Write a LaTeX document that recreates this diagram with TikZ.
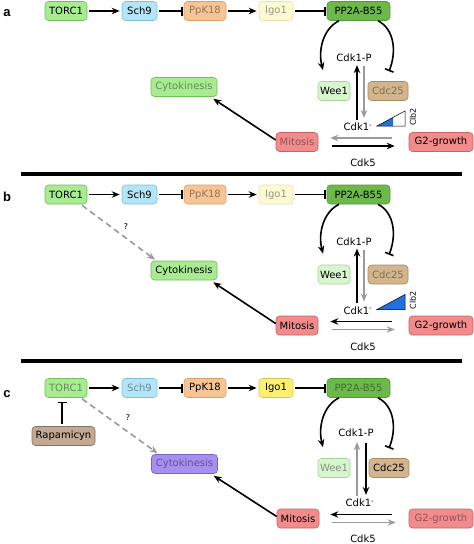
\documentclass[tikz,border=0pt]{standalone}
\usepackage{fontspec}
\setmainfont{DejaVu Sans}
\newfontfamily\lblfont{Liberation Sans}
\usetikzlibrary{arrows.meta}
\definecolor{torcF}{HTML}{A8EB91}\definecolor{torcD}{HTML}{6FBF5A}
\definecolor{schF}{HTML}{B3E5F6}\definecolor{schD}{HTML}{7FC0D8}
\definecolor{ppkF}{HTML}{F7C595}\definecolor{ppkD}{HTML}{D4A06C}
\definecolor{igoPF}{HTML}{FDF9D3}\definecolor{igoPD}{HTML}{E6DFAE}
\definecolor{igoF}{HTML}{FCF073}\definecolor{igoD}{HTML}{D6C64A}
\definecolor{ppF}{HTML}{6CB84A}\definecolor{ppD}{HTML}{4F9A35}
\definecolor{weeF}{HTML}{D8F5D0}\definecolor{weeD}{HTML}{A3D396}
\definecolor{cdcF}{HTML}{D3B58D}\definecolor{cdcD}{HTML}{A88A63}
\definecolor{mitF}{HTML}{F28B8B}\definecolor{mitD}{HTML}{C96262}
\definecolor{cytF}{HTML}{A58FF0}\definecolor{cytD}{HTML}{7A62C4}
\definecolor{rapF}{HTML}{C3A893}\definecolor{rapD}{HTML}{87705D}
\definecolor{arrgray}{HTML}{9A9A9A}
\definecolor{clbblue}{HTML}{2370DC}
\begin{document}
\begin{tikzpicture}[x=1pt,y=-1pt,
 box/.style={draw, rounded corners=3.5pt, line width=0.6pt, minimum height=19pt, inner sep=1pt, font=\fontsize{10}{12}\selectfont, text=black},
 fade/.style={text opacity=0.4},
 torc/.style={box, fill=torcF, draw=torcD, minimum width=42pt},
 sch/.style={box, fill=schF, draw=schD, minimum width=35pt},
 ppk/.style={box, fill=ppkF, draw=ppkD, minimum width=42pt},
 igop/.style={box, fill=igoPF, draw=igoPD, minimum width=34pt},
 igo/.style={box, fill=igoF, draw=igoD, minimum width=34pt},
 pp/.style={box, fill=ppF, draw=ppD, minimum width=63pt},
 wee/.style={box, fill=weeF, draw=weeD, minimum width=32pt},
 cdc/.style={box, fill=cdcF, draw=cdcD, minimum width=40pt},
 cytg/.style={box, fill=torcF, draw=torcD, minimum width=66pt},
 cytp/.style={box, fill=cytF, draw=cytD, minimum width=66pt},
 mit/.style={box, fill=mitF, draw=mitD, minimum width=42pt},
 gtwo/.style={box, fill=mitF, draw=mitD, minimum width=64pt},
 rap/.style={box, fill=rapF, draw=rapD, minimum width=63pt},
 act/.style={line width=1.6pt, -{Stealth[length=8pt,width=6.5pt]}, shorten <=2pt, shorten >=2pt},
 plain/.style={line width=1.6pt, -{Stealth[length=8pt,width=6.5pt]}},
 gplain/.style={plain, draw=arrgray},
 inh/.style={line width=1.6pt, -{Bar[width=9pt,line width=1.6pt]}, shorten <=2pt, shorten >=1pt},
 inhc/.style={line width=1.6pt, -{Bar[width=9pt,line width=1.6pt]}},
 dashact/.style={line width=1.6pt, draw=arrgray, dash pattern=on 6pt off 4pt, -{Stealth[length=8pt,width=6.5pt]}},
 lbl/.style={font=\fontsize{10}{12}\selectfont, inner sep=1pt},
 qlbl/.style={font=\fontsize{8}{9}\selectfont, inner sep=1pt},
 plbl/.style={font=\lblfont\bfseries\fontsize{13}{14}\selectfont, inner sep=0pt},
 rule/.style={line width=4pt},
]
\useasboundingbox (0,0) rectangle (474,544);

% ---------------- panel a ----------------
\node[plbl] (a-lab) at (7,13) {a};
\node[torc] (a-torc) at (66,11) {TORC1};
\node[sch] (a-sch) at (139.5,11) {Sch9};
\node[ppk, fade] (a-ppk) at (205,11) {PpK18};
\node[igop, fade] (a-igo) at (276,11) {Igo1};
\node[pp] (a-pp) at (358.5,11) {PP2A-B55};
\node[lbl] (a-cp) at (354,58) {Cdk1-P};
\node[wee] (a-wee) at (334,91) {Wee1};
\node[cdc, fade] (a-cdc) at (388,91) {Cdc25};
\node[lbl] (a-c) at (358,127) {Cdk1\textsuperscript{-}};
\node[cytg, fade] (a-cyto) at (184,87) {Cytokinesis};
\node[mit, fade] (a-mit) at (297,142) {Mitosis};
\node[gtwo] (a-g2) at (441,142) {G2-growth};
\node[lbl] (a-c5) at (363,163) {Cdk5};
\draw[act] (a-torc) -- (a-sch);
\draw[inh] (a-sch) -- (a-ppk);
\draw[act] (a-ppk) -- (a-igo);
\draw[inh] (a-igo) -- (a-pp);
\draw[plain] ([xshift=-19.5pt]a-pp.south) .. controls +(-16,8) and +(-5,-20) .. ([xshift=-11pt,yshift=11pt]a-wee.north);
\draw[inhc] ([xshift=19.5pt]a-pp.south) .. controls +(16,8) and +(8,-20) .. ([xshift=1pt,yshift=10pt]a-cdc.north);
\draw[plain] ([xshift=-1pt,yshift=2pt]a-c.north) -- ([xshift=3pt,yshift=-2pt]a-cp.south);
\draw[gplain] ([xshift=10pt,yshift=-3pt]a-cp.south) -- ([xshift=6pt,yshift=4pt]a-c.north);
\draw[gplain] ([xshift=-17pt,yshift=4pt]a-g2.west) -- ([xshift=12pt,yshift=4pt]a-mit.east);
\draw[plain] ([xshift=14pt,yshift=-4pt]a-mit.east) -- ([xshift=-14pt,yshift=-4pt]a-g2.west);
\draw[plain] ([yshift=2pt]a-mit.west) -- ([xshift=-4pt,yshift=-2pt]a-cyto.south east);
\fill[clbblue] (377,126) -- (393,126) -- (393,117.4) -- cycle;
\draw[line width=0.5pt] (377,126) -- (405,126) -- (405,111) -- cycle;
\node[qlbl, rotate=90] (a-clb) at (413,117) {Clb2};
\draw[rule] (21,174) -- (462,174);

% ---------------- panel b ----------------
\begin{scope}[shift={(0,183.5)}]
\node[plbl] (b-lab) at (7,13) {b};
\node[torc] (b-torc) at (66,11) {TORC1};
\node[sch] (b-sch) at (139.5,11) {Sch9};
\node[ppk, fade] (b-ppk) at (205,11) {PpK18};
\node[igop, fade] (b-igo) at (276,11) {Igo1};
\node[pp] (b-pp) at (358.5,11) {PP2A-B55};
\node[lbl] (b-cp) at (354,58) {Cdk1-P};
\node[wee] (b-wee) at (334,91) {Wee1};
\node[cdc, fade] (b-cdc) at (388,91) {Cdc25};
\node[lbl] (b-c) at (358,127) {Cdk1\textsuperscript{-}};
\node[cytg] (b-cyto) at (184,87) {Cytokinesis};
\node[mit] (b-mit) at (297,142) {Mitosis};
\node[gtwo] (b-g2) at (441,142) {G2-growth};
\node[lbl] (b-c5) at (363,163) {Cdk5};
\node[qlbl] (b-q) at (126,43) {?};
\draw[act] (b-torc) -- (b-sch);
\draw[inh] (b-sch) -- (b-ppk);
\draw[act] (b-ppk) -- (b-igo);
\draw[inh] (b-igo) -- (b-pp);
\draw[dashact] ([xshift=16pt,yshift=-1pt]b-torc.south) -- ([xshift=-29pt,yshift=1pt]b-cyto.north);
\draw[plain] ([xshift=-19.5pt]b-pp.south) .. controls +(-16,8) and +(-5,-20) .. ([xshift=-11pt,yshift=11pt]b-wee.north);
\draw[inhc] ([xshift=19.5pt]b-pp.south) .. controls +(16,8) and +(8,-20) .. ([xshift=1pt,yshift=10pt]b-cdc.north);
\draw[plain] ([xshift=-1pt,yshift=2pt]b-c.north) -- ([xshift=3pt,yshift=-2pt]b-cp.south);
\draw[gplain] ([xshift=10pt,yshift=-3pt]b-cp.south) -- ([xshift=6pt,yshift=4pt]b-c.north);
\draw[plain] ([xshift=-17pt,yshift=4pt]b-g2.west) -- ([xshift=12pt,yshift=4pt]b-mit.east);
\draw[gplain] ([xshift=14pt,yshift=-4pt]b-mit.east) -- ([xshift=-14pt,yshift=-4pt]b-g2.west);
\draw[plain] ([yshift=2pt]b-mit.west) -- ([xshift=-4pt,yshift=-2pt]b-cyto.south east);
\fill[clbblue] (377,126) -- (405,126) -- (405,111) -- cycle;
\draw[line width=0.5pt] (377,126) -- (405,126) -- (405,111) -- cycle;
\node[qlbl, rotate=90] (b-clb) at (413,117) {Clb2};
\draw[rule] (21,177.5) -- (462,177.5);
\end{scope}

% ---------------- panel c ----------------
\begin{scope}[shift={(0,377)}]
\node[plbl] (c-lab) at (7,17) {c};
\node[torc, fade] (c-torc) at (66,11) {TORC1};
\node[sch, fade] (c-sch) at (139.5,11) {Sch9};
\node[ppk] (c-ppk) at (205,11) {PpK18};
\node[igo] (c-igo) at (276,11) {Igo1};
\node[pp, fade] (c-pp) at (358.5,11) {PP2A-B55};
\node[rap] (c-rap) at (63.5,59) {Rapamicyn};
\node[lbl] (c-cp) at (356,56) {Cdk1-P};
\node[wee, fade] (c-wee) at (334,91) {Wee1};
\node[cdc] (c-cdc) at (389,91) {Cdc25};
\node[lbl] (c-c) at (360,126) {Cdk1\textsuperscript{-}};
\node[cytp, fade] (c-cyto) at (184.5,87) {Cytokinesis};
\node[mit] (c-mit) at (298,141.5) {Mitosis};
\node[gtwo, fade] (c-g2) at (441,141.5) {G2-growth};
\node[lbl] (c-c5) at (363,162) {Cdk5};
\node[qlbl] (c-q) at (128,41) {?};
\draw[act] (c-torc) -- (c-sch);
\draw[inh] (c-sch) -- (c-ppk);
\draw[act] (c-ppk) -- (c-igo);
\draw[inh] (c-igo) -- (c-pp);
\draw[inh, shorten >=4pt] ([xshift=-1.5pt]c-rap.north) -- ([xshift=-4pt]c-torc.south);
\draw[dashact] ([xshift=16pt,yshift=-1pt]c-torc.south) -- ([xshift=-27pt,yshift=1pt]c-cyto.north);
\draw[plain] ([xshift=-19.5pt]c-pp.south) .. controls +(-16,8) and +(-5,-20) .. ([xshift=-11pt,yshift=11pt]c-wee.north);
\draw[inhc] ([xshift=19.5pt]c-pp.south) .. controls +(16,8) and +(8,-20) .. ([xshift=0pt,yshift=10pt]c-cdc.north);
\draw[gplain] ([xshift=-3pt,yshift=2pt]c-c.north) -- ([xshift=1pt,yshift=-4pt]c-cp.south);
\draw[plain] ([xshift=10pt,yshift=-5pt]c-cp.south) -- ([xshift=6pt,yshift=3pt]c-c.north);
\draw[plain] ([xshift=-17pt,yshift=4pt]c-g2.west) -- ([xshift=11pt,yshift=4pt]c-mit.east);
\draw[gplain] ([xshift=13pt,yshift=-4pt]c-mit.east) -- ([xshift=-13pt,yshift=-4pt]c-g2.west);
\draw[plain] ([yshift=2pt]c-mit.west) -- ([xshift=-4pt,yshift=-2pt]c-cyto.south east);
\end{scope}
\end{tikzpicture}
\end{document}
